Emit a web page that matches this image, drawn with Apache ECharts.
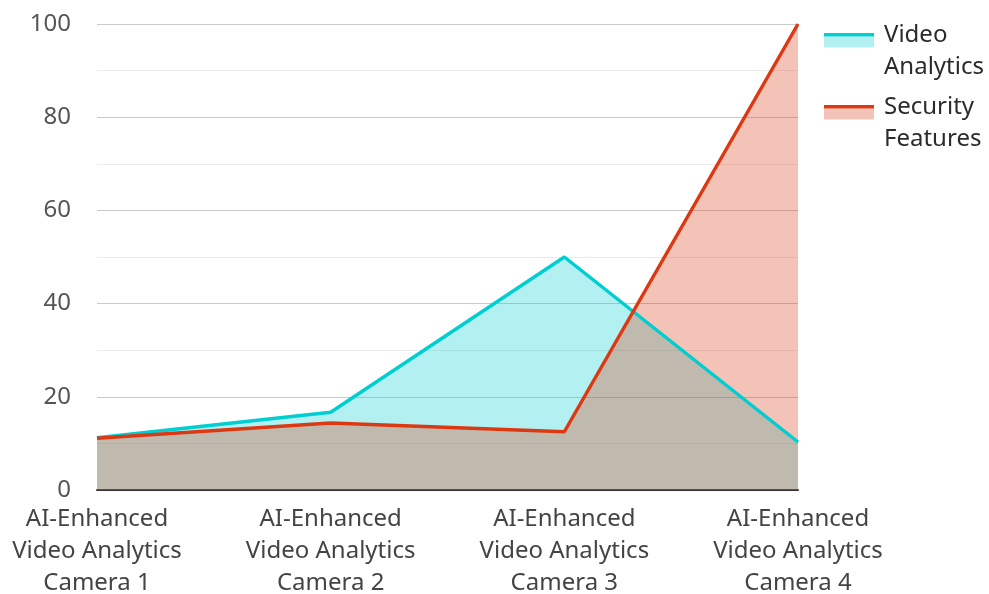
<!DOCTYPE html>
<html>
<head>
<meta charset="utf-8">
<script src="https://cdn.jsdelivr.net/npm/echarts@6/dist/echarts.min.js"></script>
<style>
    html, body { margin: 0; padding: 0; background: #fff; }
    #chart { width: 989px; height: 594px; }
</style>
</head>
<body>
<div id="chart"></div>
<script>
var categories = [
    'AI-Enhanced\nVideo Analytics\nCamera 1',
    'AI-Enhanced\nVideo Analytics\nCamera 2',
    'AI-Enhanced\nVideo Analytics\nCamera 3',
    'AI-Enhanced\nVideo Analytics\nCamera 4'
];
var videoAnalytics = [11.2, 16.7, 50, 10.3];
var securityFeatures = [11.1, 14.4, 12.5, 100];
var seriesNames = ['Video Analytics', 'Security Features'];
var colors = ['#00ced1', '#dc3912'];

// legend icon: line on top, pale fill under it
function legendIcon(color) {
    var svg = '<svg xmlns="http://www.w3.org/2000/svg" width="50" height="36" viewBox="0 0 50 36">' +
        '<rect x="0" y="3.5" width="50" height="11" fill="' + color + '" fill-opacity="0.3"/>' +
        '<rect x="0" y="0" width="50" height="3.5" fill="' + color + '"/>' +
        '</svg>';
    return 'image://data:image/svg+xml;charset=utf-8,' + encodeURIComponent(svg);
}

var myChart = echarts.init(document.getElementById('chart'));

var series = [];
// areas first, lines above them
[videoAnalytics, securityFeatures].forEach(function (data, i) {
    series.push({
        name: seriesNames[i],
        type: 'line',
        data: data,
        z: 2,
        symbol: 'none',
        lineStyle: { width: 0, opacity: 0 },
        areaStyle: { color: colors[i], opacity: 0.3 },
        silent: true
    });
});
[videoAnalytics, securityFeatures].forEach(function (data, i) {
    series.push({
        name: seriesNames[i],
        type: 'line',
        data: data,
        z: 3,
        symbol: 'none',
        itemStyle: { color: colors[i] },
        lineStyle: { color: colors[i], width: 3.5 }
    });
});

var option = {
    animation: false,
    textStyle: { fontFamily: 'Noto Sans' },
    grid: { left: 97, right: 191, top: 24, bottom: 104, outerBoundsMode: 'none' },
    legend: {
        orient: 'vertical',
        left: 824,
        top: 19,
        padding: 0,
        itemWidth: 50,
        itemHeight: 36,
        itemGap: 8,
        itemTextGap: 10,
        data: [
            { name: seriesNames[0], icon: legendIcon(colors[0]) },
            { name: seriesNames[1], icon: legendIcon(colors[1]) }
        ],
        formatter: function (name) {
            return name.replace(' ', '\n');
        },
        textStyle: {
            fontSize: 24,
            lineHeight: 32,
            padding: [0, 0, 0, 5],
            color: '#2b2b2b',
            fontFamily: 'Noto Sans'
        }
    },
    xAxis: {
        type: 'category',
        boundaryGap: false,
        data: categories,
        axisTick: { show: false },
        axisLine: { lineStyle: { color: '#333', width: 2 } },
        axisLabel: {
            interval: 0,
            margin: 13,
            fontSize: 24,
            lineHeight: 32,
            color: '#444',
            fontFamily: 'Noto Sans'
        }
    },
    yAxis: {
        type: 'value',
        min: 0,
        max: 100,
        interval: 20,
        axisLine: { show: false },
        axisTick: { show: false },
        axisLabel: { margin: 26, fontSize: 24, color: '#555', fontFamily: 'Noto Sans' },
        splitLine: { lineStyle: { color: '#cacaca', width: 1 } },
        minorTick: { show: false, splitNumber: 2 },
        minorSplitLine: { show: true, lineStyle: { color: '#ebebeb', width: 1 } }
    },
    series: series
};

myChart.setOption(option);
</script>
</body>
</html>
